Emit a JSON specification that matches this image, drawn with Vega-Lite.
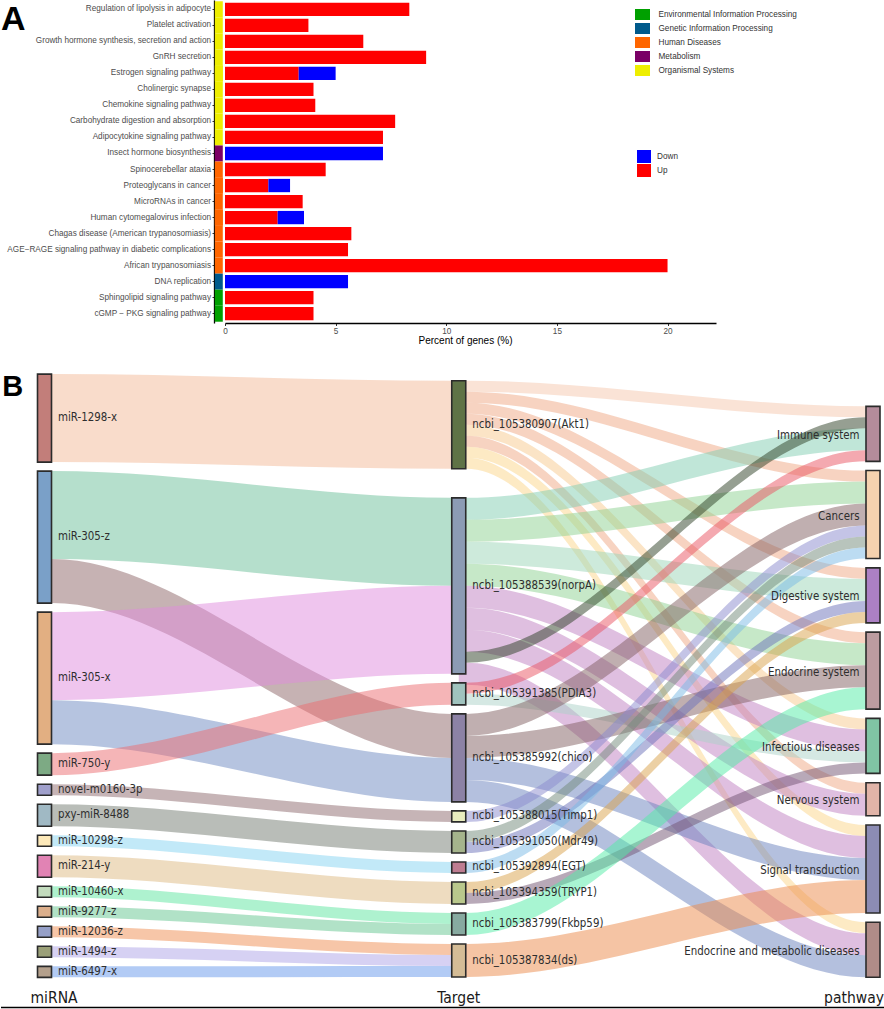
{
  "$schema": "https://vega.github.io/schema/vega-lite/v6.json",
  "padding": 0,
  "spacing": 50,
  "bounds": "flush",
  "config": {"view": {"stroke": null}, "font": "Liberation Sans"},
  "resolve": {"scale": {"x": "independent", "y": "independent", "color": "independent", "fill": "independent"}, "legend": {"color": "independent", "fill": "independent"}},
  "vconcat": [
    {
      "width": 884,
      "height": 323,
      "data": {"values": [
        {"pathway": "Regulation of lipolysis in adipocyte", "category": "Organismal Systems", "dir": "Up", "pct": 8.33},
        {"pathway": "Platelet activation", "category": "Organismal Systems", "dir": "Up", "pct": 3.77},
        {"pathway": "Growth hormone synthesis, secretion and action", "category": "Organismal Systems", "dir": "Up", "pct": 6.25},
        {"pathway": "GnRH secretion", "category": "Organismal Systems", "dir": "Up", "pct": 9.09},
        {"pathway": "Estrogen signaling pathway", "category": "Organismal Systems", "dir": "Up", "pct": 3.33},
        {"pathway": "Estrogen signaling pathway", "category": "Organismal Systems", "dir": "Down", "pct": 1.67},
        {"pathway": "Cholinergic synapse", "category": "Organismal Systems", "dir": "Up", "pct": 4.0},
        {"pathway": "Chemokine signaling pathway", "category": "Organismal Systems", "dir": "Up", "pct": 4.08},
        {"pathway": "Carbohydrate digestion and absorption", "category": "Organismal Systems", "dir": "Up", "pct": 7.69},
        {"pathway": "Adipocytokine signaling pathway", "category": "Organismal Systems", "dir": "Up", "pct": 7.14},
        {"pathway": "Insect hormone biosynthesis", "category": "Metabolism", "dir": "Down", "pct": 7.14},
        {"pathway": "Spinocerebellar ataxia", "category": "Human Diseases", "dir": "Up", "pct": 4.55},
        {"pathway": "Proteoglycans in cancer", "category": "Human Diseases", "dir": "Up", "pct": 1.96},
        {"pathway": "Proteoglycans in cancer", "category": "Human Diseases", "dir": "Down", "pct": 0.98},
        {"pathway": "MicroRNAs in cancer", "category": "Human Diseases", "dir": "Up", "pct": 3.51},
        {"pathway": "Human cytomegalovirus infection", "category": "Human Diseases", "dir": "Up", "pct": 2.38},
        {"pathway": "Human cytomegalovirus infection", "category": "Human Diseases", "dir": "Down", "pct": 1.19},
        {"pathway": "Chagas disease (American trypanosomiasis)", "category": "Human Diseases", "dir": "Up", "pct": 5.71},
        {"pathway": "AGE−RAGE signaling pathway in diabetic complications", "category": "Human Diseases", "dir": "Up", "pct": 5.56},
        {"pathway": "African trypanosomiasis", "category": "Human Diseases", "dir": "Up", "pct": 20.0},
        {"pathway": "DNA replication", "category": "Genetic Information Processing", "dir": "Down", "pct": 5.56},
        {"pathway": "Sphingolipid signaling pathway", "category": "Environmental Information Processing", "dir": "Up", "pct": 4.0},
        {"pathway": "cGMP − PKG signaling pathway", "category": "Environmental Information Processing", "dir": "Up", "pct": 4.0}
      ]},
      "layer": [
        {
          "mark": {"type": "bar"},
          "encoding": {
            "y": {"field": "pathway", "type": "nominal",
              "sort": ["Regulation of lipolysis in adipocyte","Platelet activation","Growth hormone synthesis, secretion and action","GnRH secretion","Estrogen signaling pathway","Cholinergic synapse","Chemokine signaling pathway","Carbohydrate digestion and absorption","Adipocytokine signaling pathway","Insect hormone biosynthesis","Spinocerebellar ataxia","Proteoglycans in cancer","MicroRNAs in cancer","Human cytomegalovirus infection","Chagas disease (American trypanosomiasis)","AGE−RAGE signaling pathway in diabetic complications","African trypanosomiasis","DNA replication","Sphingolipid signaling pathway","cGMP − PKG signaling pathway"],
              "scale": {"paddingInner": 0, "paddingOuter": 0.08},
              "axis": {"title": null, "offset": -213, "domainColor": "#000000", "domainWidth": 1.3, "tickColor": "#333333", "tickSize": 2, "labelFontSize": 8.2, "labelColor": "#4D4D4D", "labelPadding": 1.5, "labelLimit": 400}
            },
            "x": {"datum": -0.46, "type": "quantitative"},
            "x2": {"datum": -0.1},
            "fill": {"field": "category", "type": "nominal",
              "scale": {"domain": ["Environmental Information Processing","Genetic Information Processing","Human Diseases","Metabolism","Organismal Systems"], "range": ["#00A000","#005A8C","#FF6600","#7A0066","#EEEE00"]},
              "legend": {"title": null, "orient": "none", "legendX": 634, "legendY": 7, "symbolType": "M-1,-0.733H1V0.733H-1Z", "symbolSize": 225, "symbolStrokeWidth": 0, "labelFontSize": 8.2, "labelColor": "#333333", "labelOffset": 8.5, "rowPadding": 1}
            }
          }
        },
        {
          "mark": {"type": "bar", "height": {"band": 0.83}},
          "encoding": {
            "y": {"field": "pathway", "type": "nominal",
              "sort": ["Regulation of lipolysis in adipocyte","Platelet activation","Growth hormone synthesis, secretion and action","GnRH secretion","Estrogen signaling pathway","Cholinergic synapse","Chemokine signaling pathway","Carbohydrate digestion and absorption","Adipocytokine signaling pathway","Insect hormone biosynthesis","Spinocerebellar ataxia","Proteoglycans in cancer","MicroRNAs in cancer","Human cytomegalovirus infection","Chagas disease (American trypanosomiasis)","AGE−RAGE signaling pathway in diabetic complications","African trypanosomiasis","DNA replication","Sphingolipid signaling pathway","cGMP − PKG signaling pathway"]
            },
            "x": {"field": "pct", "type": "quantitative", "stack": "zero",
              "scale": {"domain": [0, 22.19], "range": [224, 715], "nice": false, "zero": false, "padding": 0},
              "axis": {"values": [0, 5, 10, 15, 20], "title": "Percent of genes (%)", "grid": false, "labelFlush": false, "domainColor": "#000000", "domainWidth": 1.3, "tickColor": "#333333", "tickSize": 2.5, "labelFontSize": 8.2, "labelColor": "#4D4D4D", "labelPadding": 1.5, "titleFontSize": 10, "titleFontWeight": "normal", "titleColor": "#000000", "titlePadding": 1, "titleX": 464}
            },
            "color": {"field": "dir", "type": "nominal",
              "scale": {"domain": ["Down", "Up"], "range": ["#0000FF", "#FF0000"]},
              "legend": {"title": null, "orient": "none", "legendX": 636, "legendY": 149.5, "symbolType": "M-1,-0.93H1V0.93H-1Z", "symbolSize": 196, "symbolStrokeWidth": 0, "labelFontSize": 8.2, "labelColor": "#333333", "labelOffset": 6, "rowPadding": 0}
            },
            "order": {"field": "dir", "sort": "descending"}
          }
        },
        {
          "data": {"values": [{"panel": "A"}]},
          "mark": {"type": "text", "fontSize": 34, "fontWeight": "bold", "align": "left", "baseline": "alphabetic", "dy": 20.7, "color": "#000000"},
          "encoding": {
            "text": {"field": "panel", "type": "nominal"},
            "x": {"datum": -10.12, "type": "quantitative"},
            "y": {"datum": "Regulation of lipolysis in adipocyte", "type": "nominal"}
          }
        }
      ]
    },
    {
      "width": 884,
      "height": 636,
      "layer": [
        {
          "data": {"values": [
            {"link": "miR-1298-x>Akt1", "x": 0, "y0": 0.1, "y1": 8.1},
            {"link": "miR-1298-x>Akt1", "x": 0.0181, "y0": 0.1, "y1": 8.1},
            {"link": "miR-1298-x>Akt1", "x": 0.9819, "y0": 0.7, "y1": 8.7},
            {"link": "miR-1298-x>Akt1", "x": 1, "y0": 0.7, "y1": 8.7},
            {"link": "miR-305-z>norpA", "x": 0, "y0": 8.92, "y1": 16.92},
            {"link": "miR-305-z>norpA", "x": 0.0181, "y0": 8.92, "y1": 16.92},
            {"link": "miR-305-z>norpA", "x": 0.9819, "y0": 11.35, "y1": 19.35},
            {"link": "miR-305-z>norpA", "x": 1, "y0": 11.35, "y1": 19.35},
            {"link": "miR-305-z>chico", "x": 0, "y0": 16.92, "y1": 20.92},
            {"link": "miR-305-z>chico", "x": 0.0181, "y0": 16.92, "y1": 20.92},
            {"link": "miR-305-z>chico", "x": 0.9819, "y0": 30.99, "y1": 34.99},
            {"link": "miR-305-z>chico", "x": 1, "y0": 30.99, "y1": 34.99},
            {"link": "miR-305-x>norpA", "x": 0, "y0": 21.74, "y1": 29.74},
            {"link": "miR-305-x>norpA", "x": 0.0181, "y0": 21.74, "y1": 29.74},
            {"link": "miR-305-x>norpA", "x": 0.9819, "y0": 19.35, "y1": 27.35},
            {"link": "miR-305-x>norpA", "x": 1, "y0": 19.35, "y1": 27.35},
            {"link": "miR-305-x>chico", "x": 0, "y0": 29.74, "y1": 33.74},
            {"link": "miR-305-x>chico", "x": 0.0181, "y0": 29.74, "y1": 33.74},
            {"link": "miR-305-x>chico", "x": 0.9819, "y0": 34.99, "y1": 38.99},
            {"link": "miR-305-x>chico", "x": 1, "y0": 34.99, "y1": 38.99},
            {"link": "miR-750-y>PDIA3", "x": 0, "y0": 34.56, "y1": 36.56},
            {"link": "miR-750-y>PDIA3", "x": 0.0181, "y0": 34.56, "y1": 36.56},
            {"link": "miR-750-y>PDIA3", "x": 0.9819, "y0": 28.17, "y1": 30.17},
            {"link": "miR-750-y>PDIA3", "x": 1, "y0": 28.17, "y1": 30.17},
            {"link": "novel-m0160-3p>Timp1", "x": 0, "y0": 37.38, "y1": 38.38},
            {"link": "novel-m0160-3p>Timp1", "x": 0.0181, "y0": 37.38, "y1": 38.38},
            {"link": "novel-m0160-3p>Timp1", "x": 0.9819, "y0": 39.81, "y1": 40.81},
            {"link": "novel-m0160-3p>Timp1", "x": 1, "y0": 39.81, "y1": 40.81},
            {"link": "pxy-miR-8488>Mdr49", "x": 0, "y0": 39.2, "y1": 41.2},
            {"link": "pxy-miR-8488>Mdr49", "x": 0.0181, "y0": 39.2, "y1": 41.2},
            {"link": "pxy-miR-8488>Mdr49", "x": 0.9819, "y0": 41.63, "y1": 43.63},
            {"link": "pxy-miR-8488>Mdr49", "x": 1, "y0": 41.63, "y1": 43.63},
            {"link": "miR-10298-z>EGT", "x": 0, "y0": 42.02, "y1": 43.02},
            {"link": "miR-10298-z>EGT", "x": 0.0181, "y0": 42.02, "y1": 43.02},
            {"link": "miR-10298-z>EGT", "x": 0.9819, "y0": 44.45, "y1": 45.45},
            {"link": "miR-10298-z>EGT", "x": 1, "y0": 44.45, "y1": 45.45},
            {"link": "miR-214-y>TRYP1", "x": 0, "y0": 43.84, "y1": 45.84},
            {"link": "miR-214-y>TRYP1", "x": 0.0181, "y0": 43.84, "y1": 45.84},
            {"link": "miR-214-y>TRYP1", "x": 0.9819, "y0": 46.27, "y1": 48.27},
            {"link": "miR-214-y>TRYP1", "x": 1, "y0": 46.27, "y1": 48.27},
            {"link": "miR-10460-x>Fkbp59", "x": 0, "y0": 46.66, "y1": 47.66},
            {"link": "miR-10460-x>Fkbp59", "x": 0.0181, "y0": 46.66, "y1": 47.66},
            {"link": "miR-10460-x>Fkbp59", "x": 0.9819, "y0": 49.09, "y1": 50.09},
            {"link": "miR-10460-x>Fkbp59", "x": 1, "y0": 49.09, "y1": 50.09},
            {"link": "miR-9277-z>Fkbp59", "x": 0, "y0": 48.48, "y1": 49.48},
            {"link": "miR-9277-z>Fkbp59", "x": 0.0181, "y0": 48.48, "y1": 49.48},
            {"link": "miR-9277-z>Fkbp59", "x": 0.9819, "y0": 50.09, "y1": 51.09},
            {"link": "miR-9277-z>Fkbp59", "x": 1, "y0": 50.09, "y1": 51.09},
            {"link": "miR-12036-z>ds", "x": 0, "y0": 50.3, "y1": 51.3},
            {"link": "miR-12036-z>ds", "x": 0.0181, "y0": 50.3, "y1": 51.3},
            {"link": "miR-12036-z>ds", "x": 0.9819, "y0": 51.91, "y1": 52.91},
            {"link": "miR-12036-z>ds", "x": 1, "y0": 51.91, "y1": 52.91},
            {"link": "miR-1494-z>ds", "x": 0, "y0": 52.12, "y1": 53.12},
            {"link": "miR-1494-z>ds", "x": 0.0181, "y0": 52.12, "y1": 53.12},
            {"link": "miR-1494-z>ds", "x": 0.9819, "y0": 52.91, "y1": 53.91},
            {"link": "miR-1494-z>ds", "x": 1, "y0": 52.91, "y1": 53.91},
            {"link": "miR-6497-x>ds", "x": 0, "y0": 53.94, "y1": 54.94},
            {"link": "miR-6497-x>ds", "x": 0.0181, "y0": 53.94, "y1": 54.94},
            {"link": "miR-6497-x>ds", "x": 0.9819, "y0": 53.91, "y1": 54.91},
            {"link": "miR-6497-x>ds", "x": 1, "y0": 53.91, "y1": 54.91},
            {"link": "Akt1>Immune", "x": 1, "y0": 0.7, "y1": 1.7},
            {"link": "Akt1>Immune", "x": 1.0181, "y0": 0.7, "y1": 1.7},
            {"link": "Akt1>Immune", "x": 1.9819, "y0": 3.03, "y1": 4.03},
            {"link": "Akt1>Immune", "x": 2, "y0": 3.03, "y1": 4.03},
            {"link": "Akt1>Cancers", "x": 1, "y0": 1.7, "y1": 2.7},
            {"link": "Akt1>Cancers", "x": 1.0181, "y0": 1.7, "y1": 2.7},
            {"link": "Akt1>Cancers", "x": 1.9819, "y0": 8.87, "y1": 9.87},
            {"link": "Akt1>Cancers", "x": 2, "y0": 8.87, "y1": 9.87},
            {"link": "Akt1>Digestive", "x": 1, "y0": 2.7, "y1": 3.7},
            {"link": "Akt1>Digestive", "x": 1.0181, "y0": 2.7, "y1": 3.7},
            {"link": "Akt1>Digestive", "x": 1.9819, "y0": 17.72, "y1": 18.72},
            {"link": "Akt1>Digestive", "x": 2, "y0": 17.72, "y1": 18.72},
            {"link": "Akt1>Endocrine", "x": 1, "y0": 3.7, "y1": 4.7},
            {"link": "Akt1>Endocrine", "x": 1.0181, "y0": 3.7, "y1": 4.7},
            {"link": "Akt1>Endocrine", "x": 1.9819, "y0": 23.56, "y1": 24.56},
            {"link": "Akt1>Endocrine", "x": 2, "y0": 23.56, "y1": 24.56},
            {"link": "Akt1>Infectious", "x": 1, "y0": 4.7, "y1": 5.7},
            {"link": "Akt1>Infectious", "x": 1.0181, "y0": 4.7, "y1": 5.7},
            {"link": "Akt1>Infectious", "x": 1.9819, "y0": 31.4, "y1": 32.4},
            {"link": "Akt1>Infectious", "x": 2, "y0": 31.4, "y1": 32.4},
            {"link": "Akt1>Nervous", "x": 1, "y0": 5.7, "y1": 6.7},
            {"link": "Akt1>Nervous", "x": 1.0181, "y0": 5.7, "y1": 6.7},
            {"link": "Akt1>Nervous", "x": 1.9819, "y0": 37.25, "y1": 38.25},
            {"link": "Akt1>Nervous", "x": 2, "y0": 37.25, "y1": 38.25},
            {"link": "Akt1>Signal", "x": 1, "y0": 6.7, "y1": 7.7},
            {"link": "Akt1>Signal", "x": 1.0181, "y0": 6.7, "y1": 7.7},
            {"link": "Akt1>Signal", "x": 1.9819, "y0": 41.09, "y1": 42.09},
            {"link": "Akt1>Signal", "x": 2, "y0": 41.09, "y1": 42.09},
            {"link": "Akt1>EndoMet", "x": 1, "y0": 7.7, "y1": 8.7},
            {"link": "Akt1>EndoMet", "x": 1.0181, "y0": 7.7, "y1": 8.7},
            {"link": "Akt1>EndoMet", "x": 1.9819, "y0": 49.93, "y1": 50.93},
            {"link": "Akt1>EndoMet", "x": 2, "y0": 49.93, "y1": 50.93},
            {"link": "norpA>Immune", "x": 1, "y0": 11.35, "y1": 13.35},
            {"link": "norpA>Immune", "x": 1.0181, "y0": 11.35, "y1": 13.35},
            {"link": "norpA>Immune", "x": 1.9819, "y0": 5.03, "y1": 7.03},
            {"link": "norpA>Immune", "x": 2, "y0": 5.03, "y1": 7.03},
            {"link": "norpA>Cancers", "x": 1, "y0": 13.35, "y1": 15.35},
            {"link": "norpA>Cancers", "x": 1.0181, "y0": 13.35, "y1": 15.35},
            {"link": "norpA>Cancers", "x": 1.9819, "y0": 9.87, "y1": 11.87},
            {"link": "norpA>Cancers", "x": 2, "y0": 9.87, "y1": 11.87},
            {"link": "norpA>Digestive", "x": 1, "y0": 15.35, "y1": 17.35},
            {"link": "norpA>Digestive", "x": 1.0181, "y0": 15.35, "y1": 17.35},
            {"link": "norpA>Digestive", "x": 1.9819, "y0": 18.72, "y1": 20.72},
            {"link": "norpA>Digestive", "x": 2, "y0": 18.72, "y1": 20.72},
            {"link": "norpA>Endocrine", "x": 1, "y0": 17.35, "y1": 19.35},
            {"link": "norpA>Endocrine", "x": 1.0181, "y0": 17.35, "y1": 19.35},
            {"link": "norpA>Endocrine", "x": 1.9819, "y0": 24.56, "y1": 26.56},
            {"link": "norpA>Endocrine", "x": 2, "y0": 24.56, "y1": 26.56},
            {"link": "norpA>Infectious", "x": 1, "y0": 19.35, "y1": 21.35},
            {"link": "norpA>Infectious", "x": 1.0181, "y0": 19.35, "y1": 21.35},
            {"link": "norpA>Infectious", "x": 1.9819, "y0": 32.4, "y1": 34.4},
            {"link": "norpA>Infectious", "x": 2, "y0": 32.4, "y1": 34.4},
            {"link": "norpA>Nervous", "x": 1, "y0": 21.35, "y1": 23.35},
            {"link": "norpA>Nervous", "x": 1.0181, "y0": 21.35, "y1": 23.35},
            {"link": "norpA>Nervous", "x": 1.9819, "y0": 38.25, "y1": 40.25},
            {"link": "norpA>Nervous", "x": 2, "y0": 38.25, "y1": 40.25},
            {"link": "norpA>Signal", "x": 1, "y0": 23.35, "y1": 25.35},
            {"link": "norpA>Signal", "x": 1.0181, "y0": 23.35, "y1": 25.35},
            {"link": "norpA>Signal", "x": 1.9819, "y0": 42.09, "y1": 44.09},
            {"link": "norpA>Signal", "x": 2, "y0": 42.09, "y1": 44.09},
            {"link": "norpA>Immune (2)", "x": 1, "y0": 25.35, "y1": 26.35},
            {"link": "norpA>Immune (2)", "x": 1.0181, "y0": 25.35, "y1": 26.35},
            {"link": "norpA>Immune (2)", "x": 1.9819, "y0": 4.03, "y1": 5.03},
            {"link": "norpA>Immune (2)", "x": 2, "y0": 4.03, "y1": 5.03},
            {"link": "norpA>EndoMet", "x": 1, "y0": 26.35, "y1": 28.35},
            {"link": "norpA>EndoMet", "x": 1.0181, "y0": 26.35, "y1": 28.35},
            {"link": "norpA>EndoMet", "x": 1.9819, "y0": 50.93, "y1": 52.93},
            {"link": "norpA>EndoMet", "x": 2, "y0": 50.93, "y1": 52.93},
            {"link": "PDIA3>Immune", "x": 1, "y0": 28.17, "y1": 29.17},
            {"link": "PDIA3>Immune", "x": 1.0181, "y0": 28.17, "y1": 29.17},
            {"link": "PDIA3>Immune", "x": 1.9819, "y0": 7.03, "y1": 8.03},
            {"link": "PDIA3>Immune", "x": 2, "y0": 7.03, "y1": 8.03},
            {"link": "PDIA3>Infectious", "x": 1, "y0": 29.17, "y1": 30.17},
            {"link": "PDIA3>Infectious", "x": 1.0181, "y0": 29.17, "y1": 30.17},
            {"link": "PDIA3>Infectious", "x": 1.9819, "y0": 34.4, "y1": 35.4},
            {"link": "PDIA3>Infectious", "x": 2, "y0": 34.4, "y1": 35.4},
            {"link": "chico>Cancers", "x": 1, "y0": 30.99, "y1": 32.99},
            {"link": "chico>Cancers", "x": 1.0181, "y0": 30.99, "y1": 32.99},
            {"link": "chico>Cancers", "x": 1.9819, "y0": 11.87, "y1": 13.87},
            {"link": "chico>Cancers", "x": 2, "y0": 11.87, "y1": 13.87},
            {"link": "chico>Endocrine", "x": 1, "y0": 32.99, "y1": 34.99},
            {"link": "chico>Endocrine", "x": 1.0181, "y0": 32.99, "y1": 34.99},
            {"link": "chico>Endocrine", "x": 1.9819, "y0": 26.56, "y1": 28.56},
            {"link": "chico>Endocrine", "x": 2, "y0": 26.56, "y1": 28.56},
            {"link": "chico>Signal", "x": 1, "y0": 34.99, "y1": 36.99},
            {"link": "chico>Signal", "x": 1.0181, "y0": 34.99, "y1": 36.99},
            {"link": "chico>Signal", "x": 1.9819, "y0": 44.09, "y1": 46.09},
            {"link": "chico>Signal", "x": 2, "y0": 44.09, "y1": 46.09},
            {"link": "chico>EndoMet", "x": 1, "y0": 36.99, "y1": 38.99},
            {"link": "chico>EndoMet", "x": 1.0181, "y0": 36.99, "y1": 38.99},
            {"link": "chico>EndoMet", "x": 1.9819, "y0": 52.93, "y1": 54.93},
            {"link": "chico>EndoMet", "x": 2, "y0": 52.93, "y1": 54.93},
            {"link": "Timp1>Cancers", "x": 1, "y0": 39.81, "y1": 40.81},
            {"link": "Timp1>Cancers", "x": 1.0181, "y0": 39.81, "y1": 40.81},
            {"link": "Timp1>Cancers", "x": 1.9819, "y0": 13.87, "y1": 14.87},
            {"link": "Timp1>Cancers", "x": 2, "y0": 13.87, "y1": 14.87},
            {"link": "Mdr49>Cancers", "x": 1, "y0": 41.63, "y1": 42.63},
            {"link": "Mdr49>Cancers", "x": 1.0181, "y0": 41.63, "y1": 42.63},
            {"link": "Mdr49>Cancers", "x": 1.9819, "y0": 14.87, "y1": 15.87},
            {"link": "Mdr49>Cancers", "x": 2, "y0": 14.87, "y1": 15.87},
            {"link": "Mdr49>Digestive", "x": 1, "y0": 42.63, "y1": 43.63},
            {"link": "Mdr49>Digestive", "x": 1.0181, "y0": 42.63, "y1": 43.63},
            {"link": "Mdr49>Digestive", "x": 1.9819, "y0": 20.72, "y1": 21.72},
            {"link": "Mdr49>Digestive", "x": 2, "y0": 20.72, "y1": 21.72},
            {"link": "EGT>Cancers", "x": 1, "y0": 44.45, "y1": 45.45},
            {"link": "EGT>Cancers", "x": 1.0181, "y0": 44.45, "y1": 45.45},
            {"link": "EGT>Cancers", "x": 1.9819, "y0": 15.87, "y1": 16.87},
            {"link": "EGT>Cancers", "x": 2, "y0": 15.87, "y1": 16.87},
            {"link": "TRYP1>Digestive", "x": 1, "y0": 46.27, "y1": 47.27},
            {"link": "TRYP1>Digestive", "x": 1.0181, "y0": 46.27, "y1": 47.27},
            {"link": "TRYP1>Digestive", "x": 1.9819, "y0": 21.72, "y1": 22.72},
            {"link": "TRYP1>Digestive", "x": 2, "y0": 21.72, "y1": 22.72},
            {"link": "TRYP1>Infectious", "x": 1, "y0": 47.27, "y1": 48.27},
            {"link": "TRYP1>Infectious", "x": 1.0181, "y0": 47.27, "y1": 48.27},
            {"link": "TRYP1>Infectious", "x": 1.9819, "y0": 35.4, "y1": 36.4},
            {"link": "TRYP1>Infectious", "x": 2, "y0": 35.4, "y1": 36.4},
            {"link": "Fkbp59>Endocrine", "x": 1, "y0": 49.09, "y1": 51.09},
            {"link": "Fkbp59>Endocrine", "x": 1.0181, "y0": 49.09, "y1": 51.09},
            {"link": "Fkbp59>Endocrine", "x": 1.9819, "y0": 28.56, "y1": 30.56},
            {"link": "Fkbp59>Endocrine", "x": 2, "y0": 28.56, "y1": 30.56},
            {"link": "ds>Signal", "x": 1, "y0": 51.91, "y1": 54.91},
            {"link": "ds>Signal", "x": 1.0181, "y0": 51.91, "y1": 54.91},
            {"link": "ds>Signal", "x": 1.9819, "y0": 46.09, "y1": 49.09},
            {"link": "ds>Signal", "x": 2, "y0": 46.09, "y1": 49.09}
          ]},
          "mark": {"type": "area", "interpolate": "monotone", "opacity": 0.5},
          "encoding": {
            "x": {"field": "x", "type": "quantitative", "scale": {"domain": [-0.10501, 2.02897], "nice": false, "zero": false, "padding": 0}, "axis": null},
            "y": {"field": "y0", "type": "quantitative", "stack": null, "scale": {"domain": [0, 57.818], "nice": false, "zero": false, "reverse": true, "padding": 0}, "axis": null},
            "y2": {"field": "y1"},
            "color": {"field": "link", "type": "nominal", "legend": null,
              "scale": {
                "domain": ["miR-1298-x>Akt1","miR-305-z>norpA","miR-305-z>chico","miR-305-x>norpA","miR-305-x>chico","miR-750-y>PDIA3","novel-m0160-3p>Timp1","pxy-miR-8488>Mdr49","miR-10298-z>EGT","miR-214-y>TRYP1","miR-10460-x>Fkbp59","miR-9277-z>Fkbp59","miR-12036-z>ds","miR-1494-z>ds","miR-6497-x>ds","Akt1>Immune","Akt1>Cancers","Akt1>Digestive","Akt1>Endocrine","Akt1>Infectious","Akt1>Nervous","Akt1>Signal","Akt1>EndoMet","norpA>Immune","norpA>Cancers","norpA>Digestive","norpA>Endocrine","norpA>Infectious","norpA>Nervous","norpA>Signal","norpA>Immune (2)","norpA>EndoMet","PDIA3>Immune","PDIA3>Infectious","chico>Cancers","chico>Endocrine","chico>Signal","chico>EndoMet","Timp1>Cancers","Mdr49>Cancers","Mdr49>Digestive","EGT>Cancers","TRYP1>Digestive","TRYP1>Infectious","Fkbp59>Endocrine","ds>Signal"],
                "range": ["#F3B997","#6BBF99","#8D6567","#DF8BDD","#6D89C1","#EB6B6F","#8D6A6D","#737B71","#85D3F1","#DDB981","#5EE6A0","#63C58F","#EF8D51","#ADA3E7","#6597EB","#F5C7AD","#F0A883","#F0A883","#F0A883","#F7C98E","#F0A883","#FCD68A","#FCD68A","#81CDB1","#8DD191","#9BD5B7","#8DD191","#BF7FC1","#BF7FC1","#BF7FC1","#2E4026","#BF7FC1","#E95361","#ABD1C7","#815F61","#815F61","#6981BD","#6981BD","#8989CD","#718979","#6B71B9","#79B9E5","#D9A149","#715371","#51EBA5","#EB8949"]
              }
            }
          }
        },
        {
          "data": {"name": "nodes", "values": [
            {"name": "miR-1298-x", "stage": 0, "y0": 0.1, "y1": 8.1},
            {"name": "miR-305-z", "stage": 0, "y0": 8.92, "y1": 20.92},
            {"name": "miR-305-x", "stage": 0, "y0": 21.74, "y1": 33.74},
            {"name": "miR-750-y", "stage": 0, "y0": 34.56, "y1": 36.56},
            {"name": "novel-m0160-3p", "stage": 0, "y0": 37.38, "y1": 38.38},
            {"name": "pxy-miR-8488", "stage": 0, "y0": 39.2, "y1": 41.2},
            {"name": "miR-10298-z", "stage": 0, "y0": 42.02, "y1": 43.02},
            {"name": "miR-214-y", "stage": 0, "y0": 43.84, "y1": 45.84},
            {"name": "miR-10460-x", "stage": 0, "y0": 46.66, "y1": 47.66},
            {"name": "miR-9277-z", "stage": 0, "y0": 48.48, "y1": 49.48},
            {"name": "miR-12036-z", "stage": 0, "y0": 50.3, "y1": 51.3},
            {"name": "miR-1494-z", "stage": 0, "y0": 52.12, "y1": 53.12},
            {"name": "miR-6497-x", "stage": 0, "y0": 53.94, "y1": 54.94},
            {"name": "ncbi_105380907(Akt1)", "stage": 1, "y0": 0.7, "y1": 8.7},
            {"name": "ncbi_105388539(norpA)", "stage": 1, "y0": 11.35, "y1": 27.35},
            {"name": "ncbi_105391385(PDIA3)", "stage": 1, "y0": 28.17, "y1": 30.17},
            {"name": "ncbi_105385992(chico)", "stage": 1, "y0": 30.99, "y1": 38.99},
            {"name": "ncbi_105388015(Timp1)", "stage": 1, "y0": 39.81, "y1": 40.81},
            {"name": "ncbi_105391050(Mdr49)", "stage": 1, "y0": 41.63, "y1": 43.63},
            {"name": "ncbi_105392894(EGT)", "stage": 1, "y0": 44.45, "y1": 45.45},
            {"name": "ncbi_105394359(TRYP1)", "stage": 1, "y0": 46.27, "y1": 48.27},
            {"name": "ncbi_105383799(Fkbp59)", "stage": 1, "y0": 49.09, "y1": 51.09},
            {"name": "ncbi_105387834(ds)", "stage": 1, "y0": 51.91, "y1": 54.91},
            {"name": "Immune system", "stage": 2, "y0": 3.03, "y1": 8.03},
            {"name": "Cancers", "stage": 2, "y0": 8.87, "y1": 16.87},
            {"name": "Digestive system", "stage": 2, "y0": 17.72, "y1": 22.72},
            {"name": "Endocrine system", "stage": 2, "y0": 23.56, "y1": 30.56},
            {"name": "Infectious diseases", "stage": 2, "y0": 31.4, "y1": 36.4},
            {"name": "Nervous system", "stage": 2, "y0": 37.25, "y1": 40.25},
            {"name": "Signal transduction", "stage": 2, "y0": 41.09, "y1": 49.09},
            {"name": "Endocrine and metabolic diseases", "stage": 2, "y0": 49.93, "y1": 54.93}
          ]},
          "mark": {"type": "bar", "width": 14, "stroke": "#2B2B2B", "strokeWidth": 1.6},
          "encoding": {
            "x": {"field": "stage", "type": "quantitative"},
            "y": {"field": "y0", "type": "quantitative"},
            "y2": {"field": "y1"},
            "fill": {"field": "name", "type": "nominal", "legend": null,
              "scale": {
                "domain": ["miR-1298-x","miR-305-z","miR-305-x","miR-750-y","novel-m0160-3p","pxy-miR-8488","miR-10298-z","miR-214-y","miR-10460-x","miR-9277-z","miR-12036-z","miR-1494-z","miR-6497-x","ncbi_105380907(Akt1)","ncbi_105388539(norpA)","ncbi_105391385(PDIA3)","ncbi_105385992(chico)","ncbi_105388015(Timp1)","ncbi_105391050(Mdr49)","ncbi_105392894(EGT)","ncbi_105394359(TRYP1)","ncbi_105383799(Fkbp59)","ncbi_105387834(ds)","Immune system","Cancers","Digestive system","Endocrine system","Infectious diseases","Nervous system","Signal transduction","Endocrine and metabolic diseases"],
                "range": ["#C27E7A","#7AA0C8","#E2AF82","#7DAA84","#A0A0CC","#A0B9C4","#FDE9B9","#E183B4","#C3DCBE","#DCAF8C","#96A0C8","#9BA078","#B4A08C","#5F7346","#8C9BB4","#A0C3BE","#8C82A5","#E8ECBE","#A5B48C","#BE7D91","#B9C88C","#87AAA0","#D4BC96","#B48C9B","#F5D2AF","#AC80C4","#BC9CA0","#80C4A4","#E1B4A8","#8C8CB4","#B08C88"]
              }
            }
          }
        },
        {
          "data": {"name": "nodes"},
          "transform": [{"filter": "datum.stage < 2"}, {"fold": ["y0", "y1"], "as": ["edge", "pos"]}],
          "mark": {"type": "text", "align": "left", "baseline": "middle", "dx": 13.5, "fontSize": 11.4, "font": "DejaVu Sans Condensed, Liberation Sans Narrow, sans-serif", "color": "#2E2E2E"},
          "encoding": {
            "x": {"field": "stage", "type": "quantitative"},
            "y": {"field": "pos", "type": "quantitative", "aggregate": "mean"},
            "text": {"field": "name", "type": "nominal"}
          }
        },
        {
          "data": {"name": "nodes"},
          "transform": [{"filter": "datum.stage == 2"}, {"fold": ["y0", "y1"], "as": ["edge", "pos"]}],
          "mark": {"type": "text", "align": "right", "baseline": "middle", "dx": -13.5, "dy": 2, "fontSize": 11.4, "font": "DejaVu Sans Condensed, Liberation Sans Narrow, sans-serif", "color": "#2E2E2E"},
          "encoding": {
            "x": {"field": "stage", "type": "quantitative"},
            "y": {"field": "pos", "type": "quantitative", "aggregate": "mean"},
            "text": {"field": "name", "type": "nominal"}
          }
        },
        {
          "data": {"name": "stages", "values": [{"label": "miRNA", "stage": 0}, {"label": "Target", "stage": 1}, {"label": "pathway", "stage": 2}]},
          "transform": [{"filter": "datum.stage == 0"}],
          "mark": {"type": "text", "align": "left", "baseline": "alphabetic", "dx": -14, "fontSize": 15.5, "font": "DejaVu Sans Condensed, Liberation Sans Narrow, sans-serif", "color": "#1A1A1A"},
          "encoding": {"x": {"field": "stage", "type": "quantitative"}, "y": {"datum": 57.27}, "text": {"field": "label", "type": "nominal"}}
        },
        {
          "data": {"name": "stages"},
          "transform": [{"filter": "datum.stage == 1"}],
          "mark": {"type": "text", "align": "center", "baseline": "alphabetic", "fontSize": 15.5, "font": "DejaVu Sans Condensed, Liberation Sans Narrow, sans-serif", "color": "#1A1A1A"},
          "encoding": {"x": {"field": "stage", "type": "quantitative"}, "y": {"datum": 57.27}, "text": {"field": "label", "type": "nominal"}}
        },
        {
          "data": {"name": "stages"},
          "transform": [{"filter": "datum.stage == 2"}],
          "mark": {"type": "text", "align": "right", "baseline": "alphabetic", "dx": 11, "fontSize": 15.5, "font": "DejaVu Sans Condensed, Liberation Sans Narrow, sans-serif", "color": "#1A1A1A"},
          "encoding": {"x": {"field": "stage", "type": "quantitative"}, "y": {"datum": 57.27}, "text": {"field": "label", "type": "nominal"}}
        },
        {
          "data": {"values": [{"line": "baseline"}]},
          "mark": {"type": "rule", "color": "#000000", "strokeWidth": 1.3},
          "encoding": {"y": {"datum": 57.68}}
        },
        {
          "data": {"values": [{"panel": "B"}]},
          "mark": {"type": "text", "fontSize": 29, "fontWeight": "bold", "align": "left", "baseline": "alphabetic", "color": "#000000"},
          "encoding": {"text": {"field": "panel", "type": "nominal"}, "x": {"datum": -0.102}, "y": {"datum": 2.06}}
        }
      ]
    }
  ]
}
